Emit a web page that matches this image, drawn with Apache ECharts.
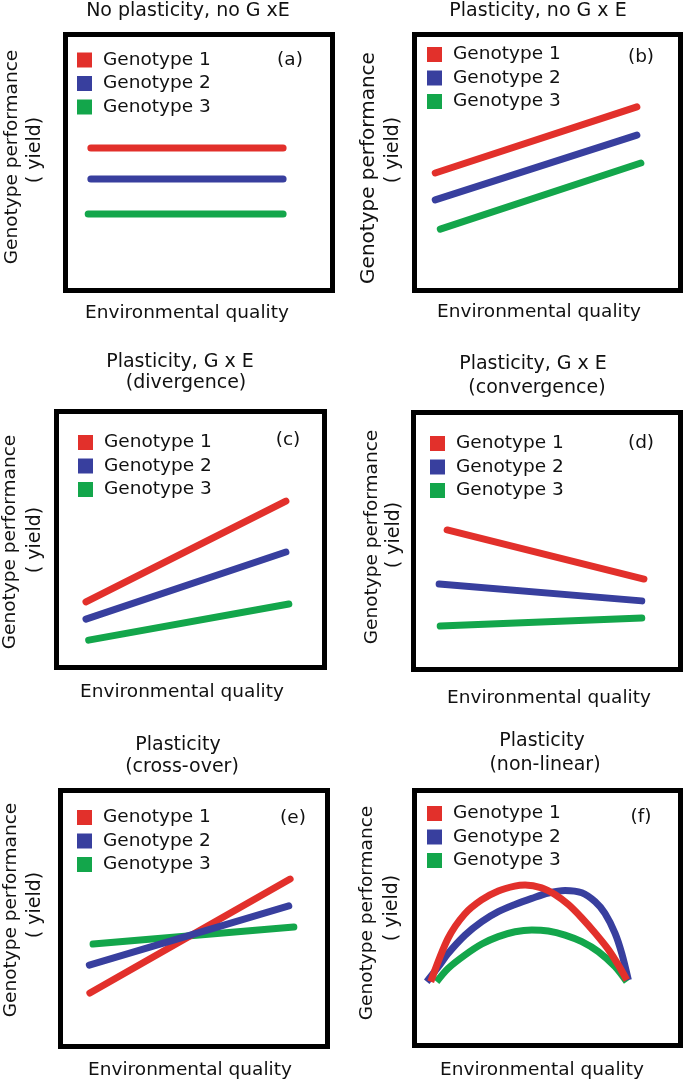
<!DOCTYPE html>
<html>
<head>
<meta charset="utf-8">
<script src="https://cdn.jsdelivr.net/npm/echarts@6/dist/echarts.min.js"></script>
<style>
html,body{margin:0;padding:0;background:#fff;}
#chart{width:685px;height:1082px;}
</style>
</head>
<body>
<div id="chart"></div>
<script>
// ---- Data (x = environmental quality, y = genotype performance, arbitrary 0-10 units) ----
const genotypes = ['Genotype 1', 'Genotype 2', 'Genotype 3'];
const colors = ['#e2302b', '#383f9e', '#13a64b'];

// (a) No plasticity, no GxE
const aG1 = [[0.95, 5.57], [8.15, 5.57]];
const aG2 = [[0.95, 4.36], [8.15, 4.36]];
const aG3 = [[0.85, 2.99], [8.15, 2.99]];
// (b) Plasticity, no GxE
const bG1 = [[0.78, 4.59], [8.36, 7.17]];
const bG2 = [[0.78, 3.54], [8.36, 6.07]];
const bG3 = [[0.97, 2.40], [8.51, 4.98]];
// (c) Plasticity, GxE (divergence)
const cG1 = [[1.10, 2.56], [8.56, 6.50]];
const cG2 = [[1.10, 1.89], [8.56, 4.51]];
const cG3 = [[1.20, 1.07], [8.67, 2.48]];
// (d) Plasticity, GxE (convergence)
const dG1 = [[1.26, 5.43], [8.63, 3.52]];
const dG2 = [[0.96, 3.33], [8.55, 2.67]];
const dG3 = [[1.00, 1.69], [8.55, 2.00]];
// (e) Plasticity (cross-over)
const eG1 = [[1.10, 2.09], [8.60, 6.54]];
const eG2 = [[1.08, 3.18], [8.55, 5.49]];
const eG3 = [[1.22, 4.00], [8.74, 4.67]];
// (f) Plasticity (non-linear)
const fG1 = [[0.61, 2.50], [1.26, 4.20], [1.88, 5.15], [2.52, 5.71], [3.15, 6.06], [3.77, 6.25], [4.16, 6.29],
             [4.78, 6.18], [5.28, 5.92], [5.78, 5.53], [6.29, 5.00], [6.79, 4.41], [7.29, 3.76], [7.66, 3.16], [7.98, 2.57]];
const fG2 = [[0.46, 2.50], [0.90, 3.09], [1.27, 3.62], [1.90, 4.33], [2.53, 4.86], [3.15, 5.25], [3.78, 5.53], [4.41, 5.77],
             [5.03, 5.98], [5.66, 6.08], [6.29, 5.99], [6.79, 5.64], [7.16, 5.18], [7.54, 4.40], [7.79, 3.62], [8.04, 2.57]];
const fG3 = [[0.83, 2.50], [1.27, 3.03], [1.90, 3.55], [2.53, 3.98], [3.15, 4.27], [3.78, 4.46], [4.41, 4.53],
             [5.03, 4.49], [5.66, 4.33], [6.29, 4.07], [6.91, 3.68], [7.54, 3.09], [7.98, 2.50]];

const titles = [
  ['No plasticity, no G xE'],
  ['Plasticity, no G x E'],
  ['Plasticity, G x E', '(divergence)'],
  ['Plasticity, G x E', '(convergence)'],
  ['Plasticity', '(cross-over)'],
  ['Plasticity', '(non-linear)']
];
const panelTags = ['(a)', '(b)', '(c)', '(d)', '(e)', '(f)'];
const xLabel = 'Environmental quality';
const yLabel1 = 'Genotype performance';
const yLabel2 = '( yield)';

const panelData = [
  [aG1, aG2, aG3], [bG1, bG2, bG3], [cG1, cG2, cG3],
  [dG1, dG2, dG3], [eG1, eG2, eG3], [fG1, fG2, fG3]
];
// drawing order of genotypes (last drawn is on top)
const drawOrder = [[2,1,0],[2,1,0],[2,1,0],[2,1,0],[2,0,1],[2,1,0]];

// ---- Layout (pixels) ----
const FONT = 'DejaVu Sans';
const TXT = '#111111';
const grids = [
  {left: 65.5, top: 34.5, width: 267, height: 256},
  {left: 414.5, top: 34.5, width: 266, height: 256},
  {left: 56.5, top: 411.5, width: 268, height: 256},
  {left: 413.5, top: 412.5, width: 267, height: 257},
  {left: 60.5, top: 790.5, width: 267, height: 256},
  {left: 414.5, top: 790.5, width: 266, height: 255}
];
const titlePos = [
  [[188, 11]],
  [[538, 11]],
  [[180, 362], [186, 383]],
  [[533, 364], [537, 388]],
  [[178, 745], [182, 767]],
  [[542, 741], [545, 765]]
];
const tagPos = [[290, 60], [641, 57], [288, 440], [641, 443], [293, 818], [641, 817]];
const xLabelPos = [[187, 313], [539, 312], [182, 692], [549, 698], [190, 1070], [542, 1070]];
const yLabelPos = [
  {x1: 12, x2: 35, y1: 157, y2: 150, fs1: 18.5},
  {x1: 369, x2: 393, y1: 168, y2: 150, fs1: 20},
  {x1: 10, x2: 35, y1: 542, y2: 540, fs1: 18.5},
  {x1: 372, x2: 394, y1: 537, y2: 535, fs1: 18.5},
  {x1: 11, x2: 35, y1: 910, y2: 905, fs1: 18.5},
  {x1: 367, x2: 392, y1: 913, y2: 908, fs1: 18.5}
];
const legendPos = [[77, 50.5], [427, 45], [78, 433], [430, 434], [77, 808], [427, 804]];

const option = {
  animation: false,
  backgroundColor: '#ffffff',
  grid: [], xAxis: [], yAxis: [], series: [], legend: [], graphic: []
};

function txt(x, y, s, fs, rot) {
  return {type: 'text', x: x, y: y, rotation: rot || 0, silent: true,
    style: {text: s, font: fs + 'px "' + FONT + '"', fill: TXT, align: 'center', verticalAlign: 'middle'}};
}

grids.forEach((g, i) => {
  option.grid.push(Object.assign({show: true, borderColor: '#000', borderWidth: 5, backgroundColor: 'transparent', containLabel: false}, g));
  option.xAxis.push({type: 'value', gridIndex: i, min: 0, max: 10, show: false});
  option.yAxis.push({type: 'value', gridIndex: i, min: 0, max: 10, show: false});
  drawOrder[i].forEach(k => {
    option.series.push({
      type: 'line', name: genotypes[k], xAxisIndex: i, yAxisIndex: i,
      data: panelData[i][k], showSymbol: false, symbol: 'none',
      smooth: i === 5 ? 0.3 : false,
      color: colors[k],
      lineStyle: {color: colors[k], width: 7, cap: i === 5 ? 'butt' : 'round', join: 'round'},
      itemStyle: {color: colors[k]},
      silent: true
    });
  });
  option.legend.push({
    data: genotypes.map((n, k) => ({name: n, itemStyle: {color: colors[k]}})),
    orient: 'vertical', left: legendPos[i][0], top: legendPos[i][1],
    padding: 0, itemWidth: 15, itemHeight: 15, itemGap: 4.5,
    icon: 'rect', selectedMode: false,
    textStyle: {fontFamily: FONT, fontSize: 18.5, color: TXT, lineHeight: 18, padding: [0, 0, 0, 6]}
  });
  titles[i].forEach((t, j) => {
    option.graphic.push(txt(titlePos[i][j][0], titlePos[i][j][1], t, 19));
  });
  option.graphic.push(txt(tagPos[i][0], tagPos[i][1], panelTags[i], 18.5));
  option.graphic.push(txt(xLabelPos[i][0], xLabelPos[i][1], xLabel, 18.5));
  const yl = yLabelPos[i];
  option.graphic.push(txt(yl.x1, yl.y1, yLabel1, yl.fs1, Math.PI / 2));
  option.graphic.push(txt(yl.x2, yl.y2, yLabel2, 19, Math.PI / 2));
});

const chart = echarts.init(document.getElementById('chart'), null, {renderer: 'canvas'});
chart.setOption(option);
</script>
</body>
</html>
